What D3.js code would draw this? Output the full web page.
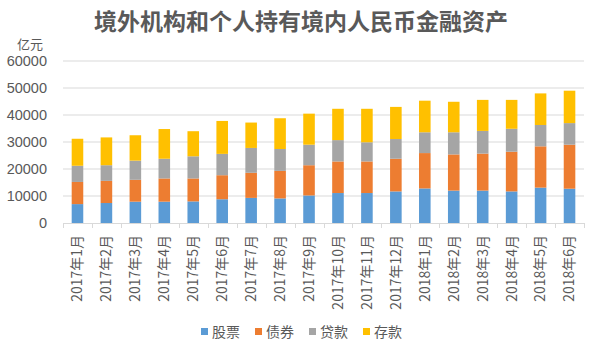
<!DOCTYPE html>
<html><head><meta charset="utf-8">
<script src="https://cdn.jsdelivr.net/npm/d3@7/dist/d3.min.js"></script>
<style>body{margin:0;background:#fff;}svg{display:block;font-family:"Noto Sans CJK SC","Liberation Sans",sans-serif;}</style>
</head><body><svg id="c" width="600" height="358"></svg>
<script>
const categories = ["2017年1月","2017年2月","2017年3月","2017年4月","2017年5月","2017年6月","2017年7月","2017年8月","2017年9月","2017年10月","2017年11月","2017年12月","2018年1月","2018年2月","2018年3月","2018年4月","2018年5月","2018年6月"];
const seriesNames = ["股票","债券","贷款","存款"];
const stocks   = [7000,7400,7900,7900,8000,8800,9300,9100,10200,11100,11100,11700,12800,12000,12000,11700,13100,12700];
const bonds    = [8200,8200,8100,8600,8500,8900,9300,10200,11200,11700,11700,12100,13100,13400,13700,14700,15300,16300];
const loans    = [6000,5800,7100,7300,8200,7900,9200,8100,7600,7900,7100,7300,7700,8200,8400,8500,7900,8000];
const deposits = [10000,10300,9400,11000,9300,12200,9400,11400,11500,11600,12400,11900,11700,11300,11500,10700,11700,12000];
const yTicks = [0,10000,20000,30000,40000,50000,60000];
const colors = ["#5B9BD5","#ED7D31","#A5A5A5","#FFC000"];

const svg = d3.select("#c");
const rows = categories.map((c,i)=>({cat:c,"股票":stocks[i],"债券":bonds[i],"贷款":loans[i],"存款":deposits[i]}));
const stack = d3.stack().keys(seriesNames)(rows);

const x = d3.scaleBand().domain(categories).range([63,584]).paddingInner(0.6).paddingOuter(0.3);
const y = d3.scaleLinear().domain([0,60000]).range([223,61]);

// gridlines
svg.append("g").selectAll("line").data(yTicks.slice(1)).join("line")
  .attr("x1",63).attr("x2",584).attr("y1",d=>y(d)).attr("y2",d=>y(d))
  .attr("stroke","#D9D9D9").attr("stroke-width",1);

// y labels
svg.append("g").selectAll("text").data(yTicks).join("text")
  .attr("x",47).attr("y",d=>y(d)).attr("dy","0.35em").attr("text-anchor","end")
  .attr("font-size",14.5).attr("fill","#595959").attr("font-family","Liberation Sans, Arial, sans-serif")
  .text(d=>d);
svg.append("text").attr("x",43).attr("y",49).attr("text-anchor","end")
  .attr("font-size",13).attr("fill","#595959").text("亿元");

// bars
svg.append("g").selectAll("g").data(stack).join("g").attr("fill",(d,i)=>colors[i])
  .selectAll("rect").data(d=>d).join("rect")
  .attr("x",d=>x(d.data.cat)).attr("width",x.bandwidth())
  .attr("y",d=>y(d[1])).attr("height",d=>y(d[0])-y(d[1]));

// x axis
const xa = svg.append("g").attr("transform","translate(0,223)");
xa.append("line").attr("x1",63).attr("x2",584).attr("y1",0.5).attr("y2",0.5).attr("stroke","#D9D9D9");
const step = x.step();
const bounds = d3.range(categories.length+1).map(i=>63+i*step);
xa.selectAll("line.t").data(bounds).join("line").attr("class","t")
  .attr("x1",d=>Math.round(d)+0.5).attr("x2",d=>Math.round(d)+0.5).attr("y1",0).attr("y2",5).attr("stroke","#D9D9D9");
xa.selectAll("text").data(categories).join("text")
  .attr("transform",d=>`translate(${x(d)+x.bandwidth()/2},12) rotate(-90)`)
  .attr("text-anchor","end").attr("dy","0.35em")
  .attr("font-size",14).attr("fill","#595959").text(d=>d);

// title
svg.append("text").attr("x",301).attr("y",30).attr("text-anchor","middle")
  .attr("font-size",23).attr("font-weight","bold").attr("fill","#595959")
  .text("境外机构和个人持有境内人民币金融资产");

// legend
const lx = [201,255,309,363];
const lg = svg.append("g").selectAll("g").data(seriesNames).join("g")
  .attr("transform",(d,i)=>`translate(${lx[i]},332)`);
lg.append("rect").attr("x",0).attr("y",-4).attr("width",7).attr("height",7).attr("fill",(d,i)=>colors[i]);
lg.append("text").attr("x",11).attr("y",0).attr("dy","0.35em").attr("font-size",14).attr("fill","#595959").text(d=>d);
</script></body></html>
